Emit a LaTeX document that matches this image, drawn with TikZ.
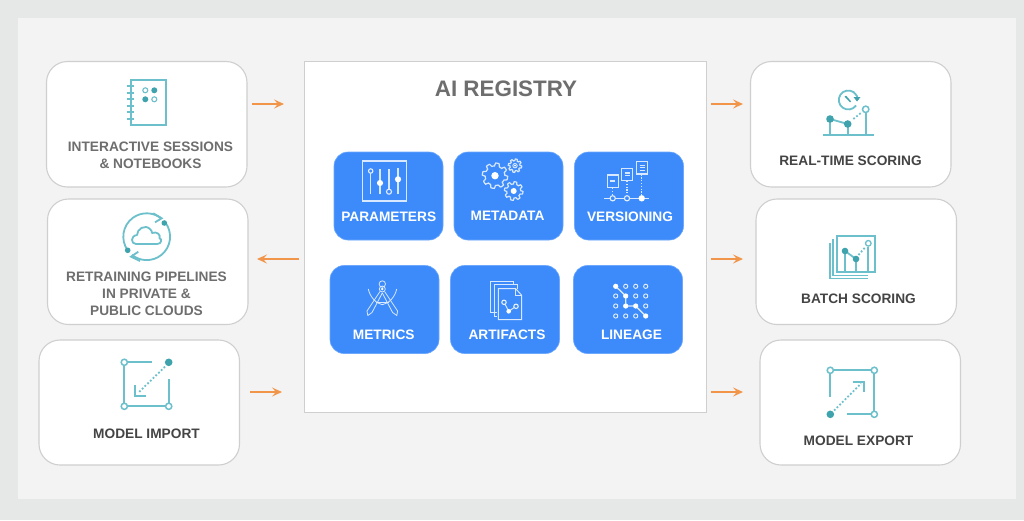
\documentclass[tikz,border=0pt]{standalone}
\usepackage{fontspec}
\setmainfont{Liberation Sans}
\usetikzlibrary{arrows.meta}
\definecolor{outerbg}{HTML}{E6E7E7}
\definecolor{innerbg}{HTML}{F3F3F3}
\definecolor{cardline}{HTML}{CFCFCF}
\definecolor{teal}{HTML}{6CC0CB}
\definecolor{tealdark}{HTML}{3FA3AE}
\definecolor{tileblue}{HTML}{3D8BFB}
\definecolor{arroworange}{HTML}{F0954A}
\definecolor{gtext}{HTML}{6E6E6E}
\definecolor{dtext}{HTML}{444444}
\tikzset{
 x=1pt,y=-1pt,
 card/.style={draw=cardline,line width=1.1pt,fill=white,rounded corners=21pt,anchor=north west,inner sep=0pt,outer sep=0pt,minimum width=200.5pt},
 tile/.style={fill=tileblue,draw=white!25!tileblue,line width=.6pt,rounded corners=14pt,anchor=north west,inner sep=0pt,outer sep=0pt,minimum width=109pt,minimum height=88pt},
 lbl/.style={font=\bfseries\fontsize{13.7}{16.6}\selectfont,align=center,inner sep=0pt,text=gtext},
 dlbl/.style={lbl,text=dtext},
 tlbl/.style={font=\bfseries\fontsize{13.7}{16}\selectfont,align=center,inner sep=0pt,text=white},
 flow/.style={draw=arroworange,line width=1.4pt,-{Stealth[length=10pt,width=9pt,inset=4pt]}},
 ic/.style={draw=teal,line width=1.8pt},
 dots/.style={dash pattern=on 1.8pt off 2pt},
 wic/.style={draw=white!80!tileblue,line width=1.2pt},
 hole/.style={draw=teal,line width=1.5pt,fill=white},
 whole/.style={draw=white!85!tileblue,line width=1.1pt,fill=tileblue},
}
\newcommand{\gearicon}[5]{%
 \draw[wic,shift={(#1,#2)}] plot[domain=0:360,samples=121,variable=\t] (\t:{(#3+#4)/2+(#4-#3)/2*max(-1,min(1,2.5*sin(#5*\t)))}) -- cycle;}
\begin{document}
\begin{tikzpicture}
\useasboundingbox (0,0) rectangle (1024,520);
\fill[outerbg] (0,0) rectangle (1024,520);
\fill[innerbg] (18,18) rectangle (1016,499);

% cards
\node[card,minimum height=125.5pt] (c1) at (46.5,61.5) {};
\node[card,minimum height=125.5pt] (c2) at (47.5,199) {};
\node[card,minimum height=125pt] (c3) at (39,340) {};
\node[card,minimum height=125.5pt] (c4) at (750.5,61.5) {};
\node[card,minimum height=125.5pt] (c5) at (756,199) {};
\node[card,minimum height=125pt] (c6) at (760,340) {};

% registry
\node[draw=cardline,line width=1pt,fill=white,minimum width=402pt,minimum height=351pt,anchor=north west,inner sep=0pt,outer sep=0pt] (reg) at (304.5,61.5) {};
\node[inner sep=0pt,font=\bfseries\fontsize{22.4}{24}\selectfont,text=gtext] (regt) at (506,89) {AI REGISTRY};

% tiles
\node[tile] (t1) at (334,152) {};
\node[tile] (t2) at (454,152) {};
\node[tile] (t3) at (574.5,152) {};
\node[tile] (t4) at (330,265.5) {};
\node[tile] (t5) at (450.5,265.5) {};
\node[tile] (t6) at (573.5,265.5) {};

\node[tlbl] (l1) at (388.7,216.8) {PARAMETERS};
\node[tlbl] (l2) at (507.5,215.3) {METADATA};
\node[tlbl] (l3) at (630,216.8) {VERSIONING};
\node[tlbl] (l4) at (383.7,334.3) {METRICS};
\node[tlbl] (l5) at (507,334.3) {ARTIFACTS};
\node[tlbl] (l6) at (631.5,334.3) {LINEAGE};

% card labels
\node[lbl] (a) at (150.5,155.2) {INTERACTIVE SESSIONS\\\& NOTEBOOKS};
\node[lbl] (b) at (146.5,293.8) {RETRAINING PIPELINES\\IN PRIVATE \&\\PUBLIC CLOUDS};
\node[dlbl] (d) at (146.5,433.5) {MODEL IMPORT};
\node[dlbl] (e) at (850.5,160.8) {REAL-TIME SCORING};
\node[dlbl] (f) at (858.5,298.8) {BATCH SCORING};
\node[dlbl] (g) at (858.5,440.8) {MODEL EXPORT};

% connectors
\coordinate (p1a) at (252,104); \coordinate (p1b) at (284,104);
\coordinate (p2a) at (299,259); \coordinate (p2b) at (257,259);
\coordinate (p3a) at (250,392); \coordinate (p3b) at (282,392);
\coordinate (p4a) at (711,104); \coordinate (p4b) at (743,104);
\coordinate (p5a) at (711,259); \coordinate (p5b) at (743,259);
\coordinate (p6a) at (711,392); \coordinate (p6b) at (743,392);
\draw[flow] (p1a) -- (p1b);
\draw[flow] (p2a) -- (p2b);
\draw[flow] (p3a) -- (p3b);
\draw[flow] (p4a) -- (p4b);
\draw[flow] (p5a) -- (p5b);
\draw[flow] (p6a) -- (p6b);

% icon: notebook
\draw[ic] (130.7,80) rectangle (166,125);
\foreach \y in {86,92.7,99.3,105.7,112.3,119} \draw[ic] (126.7,\y) -- (134,\y);
\draw[hole,line width=1.1pt] (145.3,90.3) circle (2.5);
\fill[tealdark] (154.3,90.3) circle (3);
\fill[tealdark] (145.3,99.3) circle (3);
\draw[hole,line width=1.1pt] (154.3,99.3) circle (2.5);

% icon: cloud cycle
\draw[ic] (146.7,236.7) ++(144:23.4) arc (144:309:23.4);
\draw[ic] (146.7,236.7) ++(-38:23.4) arc (-38:129:23.4);
\draw[ic] (153.3,213.3) -- (161.7,218.3) -- (155,222.3);
\draw[ic] (138.3,251.7) -- (131,256.7) -- (140,261);
\fill[tealdark] (164.3,223) circle (2.8);
\fill[tealdark] (127.7,250.3) circle (2.8);
\draw[ic,line join=round] (136,244) .. controls (131,244) and (130,236) .. (137,235) .. controls (137,229) and (145,224) .. (150,229) .. controls (151.5,230) and (152,232) .. (152,233) .. controls (157,231) and (161,235) .. (159.5,238) .. controls (162,239) and (162,244) .. (157,244) -- cycle;

% icon: import
\draw[ic] (124.3,362.3) -- (151.7,362.3);
\draw[ic] (124.3,362.3) -- (124.3,406.3) -- (168.7,406.3) -- (168.7,379.3);
\draw[ic,dots] (165,366.7) -- (138.3,392.7);
\draw[ic] (135,385) -- (135,395.7) -- (145.7,395.7);
\draw[hole] (124.3,362.3) circle (3.1);
\draw[hole] (124.3,406.3) circle (3.1);
\draw[hole] (168.7,406.3) circle (3.1);
\fill[tealdark] (168.7,362.3) circle (3.8);

% icon: real-time
\draw[ic] (822.5,135) -- (873.5,135);
\draw[ic] (830,119) -- (830,135);
\draw[ic] (847.7,124) -- (847.7,135);
\draw[ic] (865.7,113) -- (865.7,135);
\draw[ic] (830,119) -- (847.7,124);
\draw[ic,dots] (853.3,119) -- (861.7,112.3);
\fill[tealdark] (830,119) circle (3.8);
\fill[tealdark] (847.7,124) circle (3.8);
\draw[hole] (865.7,109.3) circle (3.2);
\draw[ic] (848.3,100) ++(35:9.5) arc (35:360:9.5);
\fill[tealdark] (844.5,96.5) -- (846.2,95.8) -- (851,101.3) -- (850,102.3) -- cycle;
\fill[tealdark] (853.5,97) -- (860.5,97) -- (857,101.5) -- cycle;

% icon: batch
\draw[ic] (836.7,236) rectangle (875,272.3);
\draw[ic] (833.3,239) -- (833.3,275.5) -- (868,275.5);
\draw[ic] (830,243) -- (830,278.5) -- (868,278.5);
\draw[ic] (845,251) -- (845,272);
\draw[ic] (856,259) -- (856,272);
\draw[ic] (845,251) -- (856,259);
\draw[ic,dots] (858.5,255) -- (865,247.5);
\draw[ic] (868.3,247) -- (868.3,272);
\fill[tealdark] (845,251) circle (3.3);
\fill[tealdark] (856,259) circle (3.3);
\draw[hole,line width=1.3pt] (868.3,243.3) circle (2.8);

% icon: export
\draw[ic] (830.3,370.3) -- (874.3,370.3) -- (874.3,414.3) -- (847.3,414.3);
\draw[ic] (830.3,370.3) -- (830.3,397.3);
\draw[ic,dots] (834,410.5) -- (861,383.5);
\draw[ic] (853.3,381.7) -- (863.7,381.7) -- (863.7,392);
\draw[hole] (830.3,370.3) circle (3.1);
\draw[hole] (874.3,370.3) circle (3.1);
\draw[hole] (874.3,414.3) circle (3.1);
\fill[tealdark] (830.3,414.3) circle (3.8);

% white icon: parameters
\draw[wic] (362.3,161) rectangle (406.7,201);
\draw[wic] (370.7,173) -- (370.7,194.3);
\draw[wic] (380,169) -- (380,194.3);
\draw[wic] (389,169) -- (389,189);
\draw[wic] (398,168.3) -- (398,194.3);
\draw[whole] (370.7,171) circle (2.2);
\fill[white] (380,183) circle (3.1);
\draw[whole] (389,191.7) circle (2.5);
\fill[white] (398,179.3) circle (3.1);

% white icon: metadata gears
\gearicon{495}{175.7}{9.8}{12.7}{8}
\fill[white] (495,175.7) circle (3.7);
\gearicon{515}{165.7}{5}{6.7}{8}
\draw[wic,line width=.9pt] (515,165.7) circle (2.2);
\fill[white] (515,165.7) circle (1);
\gearicon{513.7}{191}{7}{9.3}{8}
\fill[white] (513.7,191) circle (3);

% white icon: versioning
\draw[wic] (604.3,198.3) -- (649.3,198.3);
\draw[whole] (612.7,198.3) circle (2.6);
\draw[whole] (627,198.3) circle (2.6);
\fill[white] (641.7,198.3) circle (3.2);
\draw[wic] (607.3,175) rectangle (618.3,187.3);
\draw[wic] (621.3,168.3) rectangle (632.7,180.3);
\draw[wic] (636.3,161.7) rectangle (647.7,174);
\draw[wic,dash pattern=on 1.2pt off 1.6pt] (612.7,188) -- (612.7,195);
\draw[wic,dash pattern=on 1.2pt off 1.6pt] (627,181) -- (627,195);
\draw[wic,dash pattern=on 1.2pt off 1.6pt] (641.7,174.5) -- (641.7,195);
\draw[wic] (610.3,181) -- (615.3,181);
\draw[wic] (624.5,173) -- (629.5,173) (624.5,175.5) -- (629.5,175.5);
\draw[wic,line width=.9pt] (639.5,165) -- (644.5,165) (639.5,167.5) -- (644.5,167.5) (639.5,170) -- (644.5,170);

% white icon: metrics compass
\draw[wic,line width=.8pt] (382.3,284) circle (3.2);
\draw[wic,line width=.8pt] (382.3,289) circle (3);
\fill[white] (382.3,289) circle (1.4);
\draw[wic,line width=.8pt,line join=round] (380,291.5) -- (367,311) -- (367.8,315.5) -- (372,312.5) -- (382.3,293);
\draw[wic,line width=.8pt,line join=round] (384.6,291.5) -- (397.6,311) -- (396.8,315.5) -- (392.6,312.5) -- (382.3,293);
\draw[wic,line width=.8pt] (376,302) -- (389,302);
\draw[wic,line width=.8pt] (368.3,289) .. controls (370,297) and (376,303.5) .. (382.3,304.7) .. controls (389,303.5) and (395,297) .. (396.7,289);

% white icon: artifacts
\draw[wic,line width=1pt] (497,312.3) -- (490,312.3) -- (490,281.3) -- (513,281.3) -- (513,284.7);
\draw[wic,line width=1pt] (497,316) -- (494.3,316) -- (494.3,284.7) -- (517,284.7) -- (517,288.7);
\draw[wic,line width=1pt] (498.3,288.7) -- (515.7,288.7) -- (521.7,295.3) -- (521.7,319.7) -- (498.3,319.7) -- cycle;
\draw[wic,line width=1pt] (515.7,288.7) -- (515.7,295.3) -- (521.7,295.3);
\draw[wic,line width=1pt] (504,302.3) -- (508.7,311.3) -- (516,306.3);
\draw[whole] (504,302.3) circle (2.2);
\draw[whole] (516,306.3) circle (2.2);
\fill[white] (508.7,311.3) circle (2.3);

% white icon: lineage
\foreach \x in {615.7,625.7,635.7,645.7} \foreach \y in {286.3,296,306,316} \draw[whole,line width=.9pt] (\x,\y) circle (2.1);
\draw[wic,line width=1.4pt] (615.7,286.3) -- (625.7,296) -- (625.7,306) -- (635.7,306) -- (645.7,316);
\foreach \p in {(615.7,286.3),(625.7,296),(625.7,306),(635.7,306),(645.7,316)} \fill[white] \p circle (2.4);
\end{tikzpicture}
\end{document}
